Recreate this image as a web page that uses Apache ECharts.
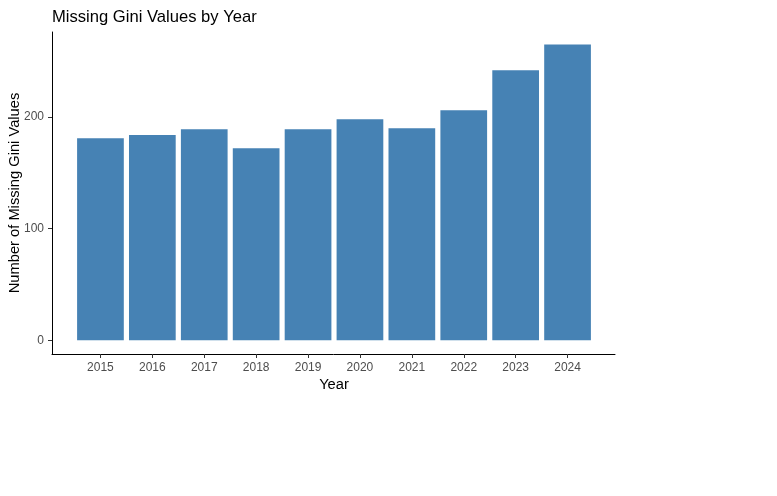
<!DOCTYPE html>
<html>
<head>
<meta charset="utf-8">
<script src="https://cdn.jsdelivr.net/npm/echarts@6/dist/echarts.min.js"></script>
<style>
  html, body { margin: 0; padding: 0; background: #fff; }
  #chart { width: 777px; height: 496px; }
</style>
</head>
<body>
<div id="chart"></div>
<script>
  // data
  var years = ['2015', '2016', '2017', '2018', '2019', '2020', '2021', '2022', '2023', '2024']
  var missing = [181, 184, 189, 172, 189, 198, 190, 206, 242, 265]
  var yTicks = [0, 100, 200]

  var font = 'Liberation Sans, Arial, sans-serif'
  var chart = echarts.init(document.getElementById('chart'))

  chart.setOption({
    animation: false,
    backgroundColor: '#fff',
    title: {
      text: 'Missing Gini Values by Year',
      left: 47,
      top: 4,
      textStyle: { fontFamily: font, fontSize: 16.6, fontWeight: 'normal', color: '#000' }
    },
    grid: [
      // panel frame (axis lines)
      { left: 52, right: 162, top: 32, bottom: 142, outerBoundsMode: 'none' },
      // bars
      { left: 74.5, right: 183.5, top: 32, bottom: 142, outerBoundsMode: 'none' }
    ],
    xAxis: [
      {
        gridIndex: 0,
        type: 'value',
        min: 0,
        max: 1,
        axisLine: { show: true, onZero: false, lineStyle: { color: '#000', width: 1 } },
        axisTick: { show: false },
        axisLabel: { show: false },
        splitLine: { show: false }
      },
      {
        gridIndex: 1,
        type: 'category',
        data: years,
        name: 'Year',
        nameLocation: 'middle',
        nameGap: 23,
        nameMoveOverlap: false,
        nameTextStyle: { fontFamily: font, fontSize: 14.7, color: '#000' },
        axisLine: { show: false, onZero: false },
        axisTick: { show: true, alignWithLabel: true, length: 4, lineStyle: { color: '#333' } },
        axisLabel: { fontFamily: font, fontSize: 12, color: '#4d4d4d', margin: 8 },
        splitLine: { show: false }
      }
    ],
    yAxis: [
      {
        gridIndex: 0,
        type: 'value',
        min: -12.3,
        max: 276.2,
        name: 'Number of Missing Gini Values',
        nameLocation: 'middle',
        nameGap: 30,
        nameMoveOverlap: false,
        nameTextStyle: { fontFamily: font, fontSize: 14.7, color: '#000' },
        axisLine: { show: true, onZero: false, lineStyle: { color: '#000', width: 1 } },
        axisTick: { show: true, length: 4, customValues: yTicks, lineStyle: { color: '#333' } },
        axisLabel: { fontFamily: font, fontSize: 12, color: '#4d4d4d', margin: 8, customValues: yTicks },
        splitLine: { show: false }
      },
      {
        gridIndex: 1,
        type: 'value',
        min: -12.3,
        max: 276.2,
        show: false,
        splitLine: { show: false }
      }
    ],
    series: [
      {
        type: 'bar',
        xAxisIndex: 1,
        yAxisIndex: 1,
        data: missing,
        barCategoryGap: '10%',
        itemStyle: { color: '#4682B4' }
      }
    ]
  })
</script>
</body>
</html>
